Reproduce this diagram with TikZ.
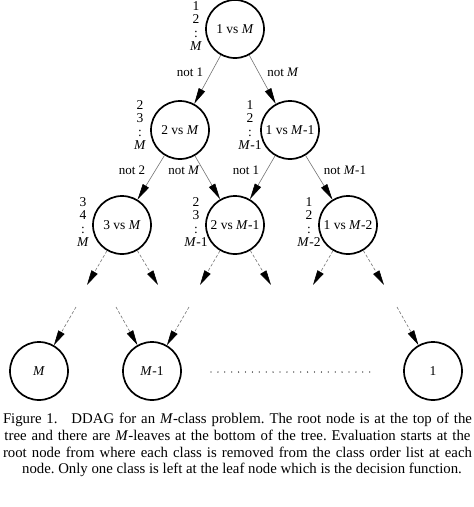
\documentclass[tikz,border=0pt]{standalone}
\usepackage{fontspec}
\setmainfont{Liberation Serif}
\usetikzlibrary{arrows.meta}
\frenchspacing
\begin{document}
\begin{tikzpicture}[x=1pt,y=-1pt,
  cnode/.style={circle,draw=black,line width=1.7pt,minimum size=58pt,inner sep=0pt,font=\fontsize{13.5}{14}\selectfont},
  lst/.style={align=center,inner sep=0pt,font=\fontsize{13.5}{13.6}\selectfont},
  elab/.style={inner sep=0pt,font=\fontsize{13}{14}\selectfont},
  sarr/.style={draw=black!55,line width=0.6pt,-{Triangle[length=16pt,width=7pt,color=black]}},
  darr/.style={draw=black!55,line width=0.6pt,dash pattern=on 3pt off 2pt,-{Triangle[length=15pt,width=7pt,color=black]}},
  captxt/.style={inner sep=0pt,anchor=base,font=\fontsize{14.8}{16}\selectfont}
]
\useasboundingbox (0,0) rectangle (474,507);
\clip (0,0) rectangle (474,507);
% nodes
\node[cnode] (r) at (235,29) {1 vs \textit{M}};
\node[cnode] (a1) at (180,130) {2 vs \textit{M}};
\node[cnode] (a2) at (290,130) {1 vs \textit{M}-1};
\node[cnode] (b1) at (122,225) {3 vs \textit{M}};
\node[cnode] (b2) at (235,225) {2 vs \textit{M}-1};
\node[cnode] (b3) at (348,225) {1 vs \textit{M}-2};
\node[cnode] (l1) at (39,371) {\textit{M}};
\node[cnode] (l2) at (152,371) {\textit{M}-1};
\node[cnode] (l3) at (433,371) {1};
% lists
\node[lst] (lr) at (196,26) {1\\2\\:\\\textit{M}};
\node[lst] (la1) at (140,125) {2\\3\\:\\\textit{M}};
\node[lst] (la2) at (250,125) {1\\2\\:\\\textit{M}-1};
\node[lst] (lb1) at (83,222) {3\\4\\:\\\textit{M}};
\node[lst] (lb2) at (196,222) {2\\3\\:\\\textit{M}-1};
\node[lst] (lb3) at (309,222) {1\\2\\:\\\textit{M}-2};
% incoming to root
\coordinate (top) at (235,-30);
\draw[sarr] (top) -- (r);
% solid arrows
\draw[sarr] (r) -- (a1);
\draw[sarr] (r) -- (a2);
\draw[sarr] (a1) -- (b1);
\draw[sarr] (a1) -- (b2);
\draw[sarr] (a2) -- (b2);
\draw[sarr] (a2) -- (b3);
% edge labels
\node[elab] (e1) at (190,72) {not 1};
\node[elab] (e2) at (283,72) {not \textit{M}};
\node[elab] (e3) at (132,170) {not 2};
\node[elab] (e4) at (184,170) {not \textit{M}};
\node[elab] (e5) at (246,170) {not 1};
\node[elab] (e6) at (345,170) {not \textit{M}-1};
% dashed arrows out of level 3
\coordinate (t1L) at (87,285);
\coordinate (t1R) at (158,285);
\coordinate (t2L) at (200,285);
\coordinate (t2R) at (271,285);
\coordinate (t3L) at (313,285);
\coordinate (t3R) at (384,285);
\draw[darr] (b1) -- (t1L);
\draw[darr] (b1) -- (t1R);
\draw[darr] (b2) -- (t2L);
\draw[darr] (b2) -- (t2R);
\draw[darr] (b3) -- (t3L);
\draw[darr] (b3) -- (t3R);
% dashed arrows into leaves
\coordinate (s1R) at (76,307);
\coordinate (s2L) at (116,307);
\coordinate (s2R) at (189,307);
\coordinate (s3L) at (397,307);
\draw[darr] (s1R) -- (l1);
\draw[darr] (s2L) -- (l2);
\draw[darr] (s2R) -- (l2);
\draw[darr] (s3L) -- (l3);
% dots
\coordinate (d1) at (211,372);
\coordinate (d2) at (376,372);
\draw[line width=1.3pt,line cap=round,dash pattern=on 0pt off 6.9pt] (d1) -- (d2);
% caption
\node[captxt] (c1) at (237.5,423) {\makebox[469pt][s]{Figure 1.\hspace{9pt} DDAG for an \textit{M}-class problem. The root node is at the top of the}};
\node[captxt] (c2) at (237.5,440) {\makebox[466pt][s]{tree and there are \textit{M}-leaves at the bottom of the tree. Evaluation starts at the}};
\node[captxt] (c3) at (237.5,457) {\makebox[469pt][s]{root node from where each class is removed from the class order list at each}};
\node[captxt] (c4) at (242,473) {node. Only one class is left at the leaf node which is the decision function.};
\end{tikzpicture}
\end{document}
